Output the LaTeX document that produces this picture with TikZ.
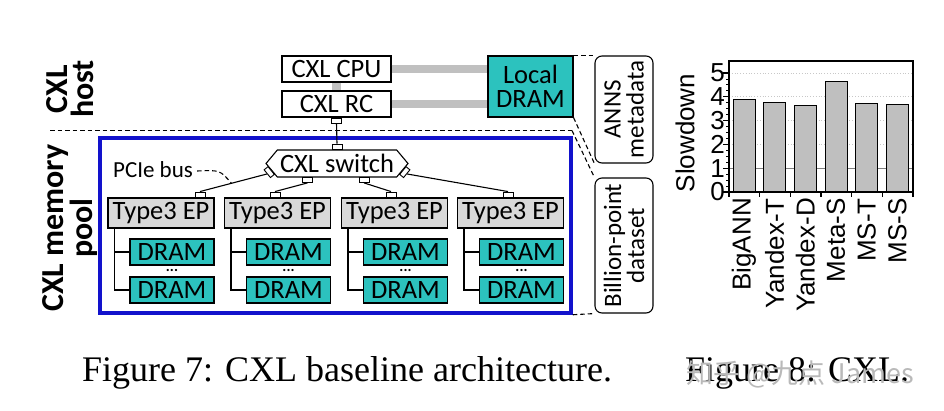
\documentclass[tikz,border=0pt]{standalone}
\usepackage{fontspec}
\setmainfont{Carlito}
\newfontfamily\arialfont{Liberation Sans}
\newfontfamily\capfont{Liberation Serif}
\newfontfamily\cjkfont{Noto Sans CJK SC}
\usetikzlibrary{shapes.symbols,calc}
\definecolor{dramteal}{RGB}{44,194,190}
\definecolor{linkgray}{RGB}{192,192,192}
\definecolor{epgray}{RGB}{217,217,217}
\definecolor{poolblue}{RGB}{18,18,204}
\definecolor{bargray}{RGB}{191,191,191}
\definecolor{gridgray}{RGB}{200,200,200}
\definecolor{wmgray}{RGB}{185,185,185}
\tikzset{
  box/.style={draw, line width=1.1pt, inner sep=0pt, font=\fontsize{26.5}{24}\selectfont},
  hostbox/.style={box, fill=white, minimum width=109pt, minimum height=26pt},
  epbox/.style={box, fill=epgray, minimum width=106pt, minimum height=30pt},
  drambox/.style={box, fill=dramteal, minimum width=84pt, minimum height=26pt},
  port/.style={draw, fill=white, line width=0.9pt, minimum width=10pt, minimum height=5pt, inner sep=0pt},
  link/.style={line width=1.1pt},
  glink/.style={line width=8.5pt, draw=linkgray},
  zoomline/.style={dash pattern=on 4.5pt off 3pt, line width=1.1pt},
  sidelabel/.style={rotate=90, align=center, inner sep=0pt, font=\bfseries\fontsize{32}{26}\selectfont},
  detailbox/.style={rotate=90, draw, rounded corners=7pt, line width=1.1pt, inner sep=0pt, align=center, minimum height=58pt, font=\fontsize{25}{23}\selectfont},
  chartfont/.style={font=\arialfont\fontsize{26}{26}\selectfont},
  dotsnode/.style={inner sep=0pt, font=\bfseries\fontsize{15}{15}\selectfont},
  capstyle/.style={anchor=base west, inner sep=0pt, font=\capfont\fontsize{36}{36}\selectfont}
}
\begin{document}
\begin{tikzpicture}[x=1pt,y=-1pt]
\useasboundingbox (0,0) rectangle (944,410);

% side labels
\node[sidelabel] (hostlab) at (70,89) {CXL\\host};
\node[sidelabel] (poollab) at (70,228) {CXL memory\\pool};

% separator
\coordinate (sepL) at (50,130.5);
\coordinate (sepR) at (572,130.5);
\draw[zoomline] (sepL) -- (sepR);

% memory pool frame
\node[draw=poolblue, line width=3.5pt, minimum width=471pt, minimum height=175pt, inner sep=0pt] (pool) at (335.5,225.5) {};

% host
\node[hostbox] (cpu) at (336.5,69) {CXL CPU};
\node[hostbox] (rc) at (336.5,104) {CXL RC};
\node[box, fill=dramteal, minimum width=85pt, minimum height=61pt, align=center] (ldram) at (530.5,86.5) {Local\\DRAM};
\draw[glink] (cpu.south) -- (rc.north);
\draw[glink] (cpu.east) -- (cpu.east -| ldram.west);
\draw[glink] (rc.east) -- (rc.east -| ldram.west);
\node[port, anchor=north] (prc) at (rc.south) {};

% switch
\node[box, signal, signal to=west and east, signal pointer angle=100, fill=white, minimum width=142pt, minimum height=27pt] (sw) at (337,163.5) {CXL switch};
\node[port, anchor=south] (pst) at (sw.north) {};
\node[port, anchor=north] (psb1) at (307.5,177) {};
\node[port, anchor=north] (psb2) at (364,177) {};
\node[port, anchor=north, rotate=-50.8] (psl) at (271.5,170.25) {};
\node[port, anchor=north, rotate=50.8] (psr) at (402.5,170.25) {};
\draw[link] (prc.south) -- (pst.north);

% endpoints and DRAM
\foreach \i/\cx/\px in {1/161/39, 2/277.5/-2.5, 3/394.5/-3.5, 4/510.5/-2.5} {
  \node[epbox] (ep\i) at (\cx,213) {Type3 EP};
  \node[port, anchor=south] (pe\i) at ($(ep\i.north)+(\px,0)$) {};
  \node[drambox] (da\i) at ($(ep\i.center)+(11,39)$) {DRAM};
  \node[drambox] (db\i) at ($(ep\i.center)+(11,77)$) {DRAM};
  \node[dotsnode] (dd\i) at ($(da\i.south)!0.5!(db\i.north)+(0,-0.5)$) {...};
  \coordinate (t\i) at ($(ep\i.south west)+(7,0)$);
  \draw[link] (t\i) |- (da\i.west);
  \draw[link] (t\i) |- (db\i.west);
}
\draw[link] (psl.south) -- coordinate[pos=0.53] (bustap) (pe1.north);
\draw[link] (psb1.south) -- (pe2.north);
\draw[link] (psb2.south) -- (pe3.north);
\draw[link] (psr.south) -- (pe4.north);

% PCIe bus label
\node[inner sep=0pt, font=\fontsize{23}{23}\selectfont] (pcie) at (153,170) {PCIe bus};
\draw[zoomline] ($(pcie.east)+(4,1)$) .. controls (220,170) .. (bustap);

% detail boxes
\node[detailbox, minimum width=107pt] (anns) at (624,109.5) {ANNS\\metadata};
\node[detailbox, minimum width=135pt] (bil) at (624,245.5) {Billion-point\\dataset};
\draw[zoomline] (ldram.north east) -- (anns.north east);
\draw[zoomline] (ldram.south east) -- (anns.north west);
\draw[zoomline] (sepR) -- (bil.north east);
\draw[zoomline] (pool.south east) -- (bil.north west);

% chart
\draw[gray, line width=0.6pt] (729,{192-23.8}) -- (913,{192-23.8});
\foreach \v in {2,3,4,5}
  \draw[gridgray, dotted, line width=0.8pt] (729,{192-23.8*\v}) -- (913,{192-23.8*\v});
\foreach \i/\v in {0/3.9,1/3.78,2/3.64,3/4.66,4/3.71,5/3.69}
  \draw[fill=bargray, line width=1pt] ({733+30.67*\i},192) rectangle ({755+30.67*\i},{192-23.8*\v});
\draw[line width=1.5pt] (729,61) rectangle (913,192);
\foreach \i in {0,...,6}
  \draw[line width=1.3pt] ({729+30.67*\i},192) -- ++(0,5);
\foreach \v in {0,...,5}
  \draw[line width=1.1pt] (729,{192-23.8*\v}) -- ++(-6,0);
\foreach \v in {0.25,0.5,0.75,1.25,1.5,1.75,2.25,2.5,2.75,3.25,3.5,3.75,4.25,4.5,4.75}
  \draw[line width=0.9pt] (729,{192-23.8*\v}) -- ++(-3.5,0);
\foreach \v in {0,...,5}
  \node[chartfont, anchor=east, inner sep=0pt] (ytl\v) at (725,{192-23.8*\v}) {\v};
\node[chartfont, rotate=90, inner sep=0pt] (ylab) at (685,133) {Slowdown};
\foreach \i/\t in {0/BigANN,1/Yandex-T,2/Yandex-D,3/Meta-S,4/MS-T,5/MS-S}
  \node[chartfont, rotate=90, anchor=east, inner sep=0pt] (xl\i) at ({744+30.67*\i},198) {\t};

% captions
\node[capstyle] (cap7) at (82,381) {Figure 7: CXL baseline architecture.};
\node[capstyle] (cap8) at (685,381) {Figure 8: CXL.};
\node[anchor=base west, inner sep=0pt, text=wmgray, font=\cjkfont\fontsize{27}{27}\selectfont] (wm) at (686,383) {知乎 @九点 James};
\end{tikzpicture}
\end{document}
